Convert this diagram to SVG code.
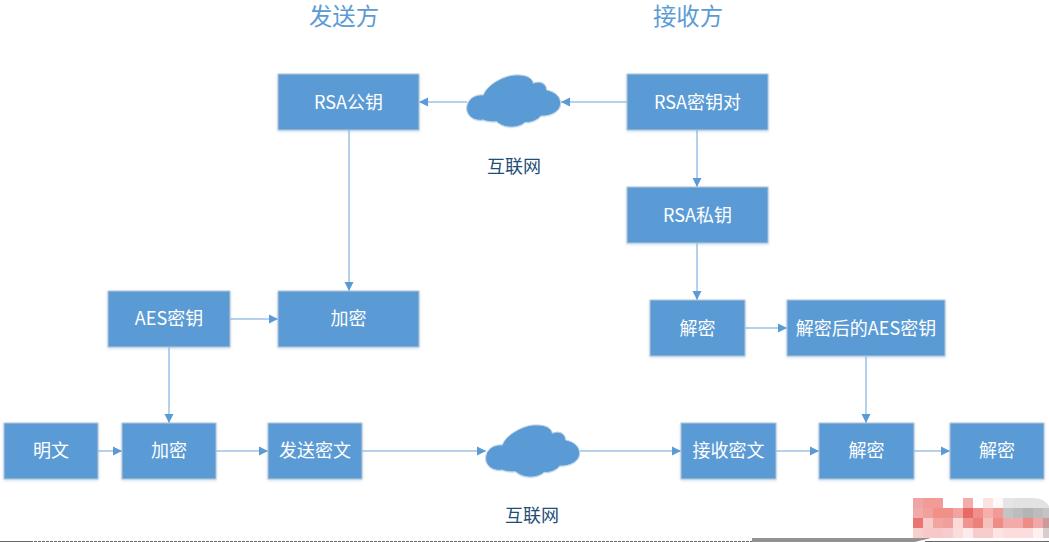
<svg xmlns="http://www.w3.org/2000/svg" width="1049" height="542" viewBox="0 0 1049 542">
<style>
.b{fill:#5b9bd5;stroke:#b9c6d3;stroke-width:1;filter:drop-shadow(0 1.5px 1.5px rgba(91,155,213,.35))}
.t{font-family:"Noto Sans CJK SC","Liberation Sans",sans-serif;font-size:18px;fill:#fff;text-anchor:middle}
.h{font-family:"Noto Sans CJK SC","Liberation Sans",sans-serif;font-size:23.4px;fill:#5b9bd5;text-anchor:middle}
.n{font-family:"Noto Sans CJK SC","Liberation Sans",sans-serif;font-size:18px;fill:#1f4e79;text-anchor:middle}
.c{fill:none;stroke:#9dc3e6;stroke-width:1.5}
.cl{fill:#5b9bd5;stroke:#c5d6e6;stroke-width:3;filter:drop-shadow(0 1.5px 1.5px rgba(91,155,213,.35))}
</style>
<defs>
<marker id="a" markerUnits="userSpaceOnUse" markerWidth="10" markerHeight="10" refX="9" refY="5" orient="auto"><path d="M0 0.500L9 5L0 9.500Z" fill="#5b9bd5"/></marker>
<path id="cloud" d="M50 145C50 118 75 102 100 105C110 75 165 42 205 45C230 45 248 55 250 70C270 60 290 72 290 90C315 95 332 110 332 130C332 155 300 170 272 168C265 180 240 190 225 187C215 200 170 212 140 185C125 187 105 183 100 180C75 185 50 170 50 145Z"/>
</defs>
<rect width="1049" height="542" fill="#fff"/>
<g id="connectors">
<path class="c" d="M627 102H561" marker-end="url(#a)"/>
<path class="c" d="M467 102H419" marker-end="url(#a)"/>
<path class="c" d="M349 130V291" marker-end="url(#a)"/>
<path class="c" d="M697 130V187" marker-end="url(#a)"/>
<path class="c" d="M697 243V300" marker-end="url(#a)"/>
<path class="c" d="M230 319H278" marker-end="url(#a)"/>
<path class="c" d="M169 347V423" marker-end="url(#a)"/>
<path class="c" d="M745 328H787" marker-end="url(#a)"/>
<path class="c" d="M866 356V423" marker-end="url(#a)"/>
<path class="c" d="M98 451H122" marker-end="url(#a)"/>
<path class="c" d="M216 451H268" marker-end="url(#a)"/>
<path class="c" d="M362 451H486" marker-end="url(#a)"/>
<path class="c" d="M580 451H681" marker-end="url(#a)"/>
<path class="c" d="M776 451H819" marker-end="url(#a)"/>
<path class="c" d="M914 451H950" marker-end="url(#a)"/>
</g>
<g id="header-sender"><text class="h" x="344" y="25">发送方</text></g>
<g id="header-receiver"><text class="h" x="688" y="25">接收方</text></g>
<g id="rsa-public"><rect class="b" x="278" y="74" width="141" height="56"/><text class="t" x="348.500" y="109">RSA公钥</text></g>
<g id="rsa-pair"><rect class="b" x="627" y="74" width="141" height="56"/><text class="t" x="697.500" y="109">RSA密钥对</text></g>
<g id="rsa-private"><rect class="b" x="627" y="187" width="141" height="56"/><text class="t" x="697.500" y="222">RSA私钥</text></g>
<g id="encrypt-key"><rect class="b" x="278" y="291" width="141" height="56"/><text class="t" x="348.500" y="325">加密</text></g>
<g id="aes-key"><rect class="b" x="108" y="291" width="122" height="56"/><text class="t" x="169" y="325">AES密钥</text></g>
<g id="decrypt-key"><rect class="b" x="650" y="300" width="95" height="56"/><text class="t" x="697.500" y="335">解密</text></g>
<g id="aes-decrypted"><rect class="b" x="787" y="300" width="158" height="56"/><text class="t" x="866" y="335">解密后的AES密钥</text></g>
<g id="plain"><rect class="b" x="4" y="423" width="94" height="56"/><text class="t" x="51" y="457">明文</text></g>
<g id="encrypt-data"><rect class="b" x="122" y="423" width="94" height="56"/><text class="t" x="169" y="457">加密</text></g>
<g id="send"><rect class="b" x="268" y="423" width="94" height="56"/><text class="t" x="315" y="457">发送密文</text></g>
<g id="receive"><rect class="b" x="681" y="423" width="95" height="56"/><text class="t" x="728.500" y="457">接收密文</text></g>
<g id="decrypt-data"><rect class="b" x="819" y="423" width="95" height="56"/><text class="t" x="866.500" y="457">解密</text></g>
<g id="decrypt-out"><rect class="b" x="950" y="423" width="94" height="56"/><text class="t" x="997" y="457">解密</text></g>
<g id="cloud-top"><use href="#cloud" class="cl" transform="translate(450 60) scale(.3333)"/><text class="n" x="514" y="173">互联网</text></g>
<g id="cloud-bottom"><use href="#cloud" class="cl" transform="translate(469 410) scale(.3333)"/><text class="n" x="532" y="522">互联网</text></g>
<g id="smudge">
<rect x="913" y="498" width="10" height="10" fill="#efa5a5"/><rect x="923" y="498" width="10" height="10" fill="#f19a96"/><rect x="933" y="498" width="10" height="10" fill="#f29c98"/><rect x="963" y="498" width="10" height="10" fill="#f2adab"/><rect x="983" y="498" width="10" height="10" fill="#fbe3e1"/><rect x="993" y="498" width="10" height="10" fill="#fff8f8"/><rect x="1003" y="498" width="10" height="10" fill="#e5e5e5"/><rect x="1013" y="498" width="20" height="10" fill="#e2e2e2"/><path d="M1033 498Q1044 498 1049 506V508H1033Z" fill="#e2e2e2"/>
<rect x="913" y="508" width="10" height="10" fill="#f2a9a9"/><rect x="923" y="508" width="10" height="10" fill="#f2a09c"/><rect x="933" y="508" width="20" height="10" fill="#f09088"/><rect x="953" y="508" width="10" height="10" fill="#f2a4a0"/><rect x="963" y="508" width="10" height="10" fill="#e86a66"/><rect x="973" y="508" width="10" height="10" fill="#f08f8c"/><rect x="983" y="508" width="10" height="10" fill="#f5b0ac"/><rect x="993" y="508" width="10" height="10" fill="#f19a96"/><rect x="1003" y="508" width="10" height="10" fill="#c4c4c4"/><rect x="1013" y="508" width="10" height="10" fill="#bcbcbc"/><rect x="1023" y="508" width="10" height="10" fill="#b4b4b4"/><rect x="1033" y="508" width="10" height="10" fill="#bcbcbc"/><rect x="1043" y="508" width="6" height="10" fill="#c4c4c4"/>
<rect x="913" y="518" width="10" height="10" fill="#ea7470"/><rect x="923" y="518" width="10" height="10" fill="#f7cbc8"/><rect x="933" y="518" width="10" height="10" fill="#f2a4a0"/><rect x="943" y="518" width="10" height="10" fill="#f0a09c"/><rect x="953" y="518" width="10" height="10" fill="#fad9d7"/><rect x="963" y="518" width="10" height="10" fill="#f09490"/><rect x="973" y="518" width="10" height="10" fill="#ec807c"/><rect x="983" y="518" width="10" height="10" fill="#f6c0bc"/><rect x="993" y="518" width="10" height="10" fill="#ee8c88"/><rect x="1003" y="518" width="20" height="10" fill="#f2aaaa"/><rect x="1023" y="518" width="10" height="10" fill="#ee8c88"/><rect x="1033" y="518" width="10" height="10" fill="#f2a8a8"/><rect x="1043" y="518" width="6" height="10" fill="#c89c9c"/>
<rect x="913" y="528" width="10" height="10" fill="#f8cfcf"/><rect x="923" y="528" width="20" height="10" fill="#f8c8c8"/><rect x="943" y="528" width="10" height="10" fill="#f8cccc"/><rect x="953" y="528" width="10" height="10" fill="#fbdcdc"/><rect x="963" y="528" width="10" height="10" fill="#fdeaea"/><rect x="973" y="528" width="20" height="10" fill="#f9cccc"/><rect x="993" y="528" width="10" height="10" fill="#fde4e4"/><rect x="1003" y="528" width="30" height="10" fill="#fcdcdc"/><rect x="1033" y="528" width="10" height="10" fill="#fff0f0"/><rect x="1043" y="528" width="6" height="10" fill="#d8cccc"/>
</g>
<g id="bottom-edge">
<path d="M752 538H930L925 539Q940 536 915 542H752Z" fill="#929292"/>
<path d="M0 541.500H30" stroke="#666" stroke-width="1" fill="none"/>
<path d="M30 541.500H752" stroke="#666" stroke-width="1" stroke-dasharray="3 1" fill="none"/>
<path d="M925 541.500H1049" stroke="#666" stroke-width="1" fill="none"/>
</g>
</svg>
